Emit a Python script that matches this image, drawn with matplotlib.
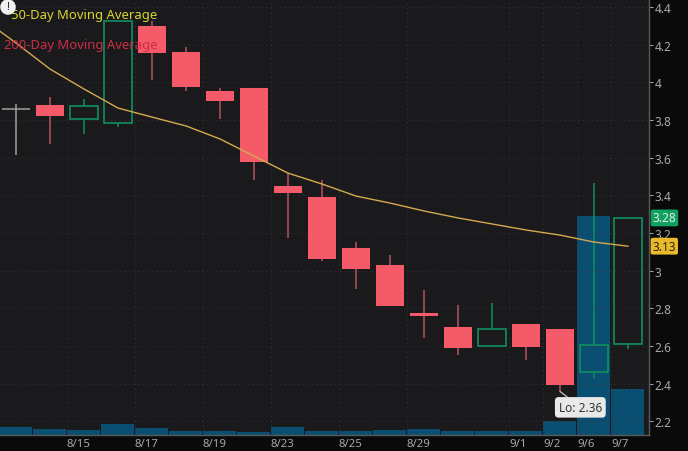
import matplotlib
matplotlib.use("Agg")
import matplotlib.pyplot as plt
from matplotlib.transforms import blended_transform_factory

plt.rcParams['font.family'] = ['Noto Sans', 'DejaVu Sans']

# daily prices
opens = [3.858, 3.879, 3.805, 3.784, 4.298, 4.160, 3.953, 3.969, 3.449, 3.391,
         3.120, 3.030, 2.776, 2.701, 2.601, 2.717, 2.691, 2.463, 2.611]
closes = [3.858, 3.821, 3.876, 4.325, 4.155, 3.975, 3.900, 3.577, 3.412, 3.062,
          3.009, 2.813, 2.760, 2.590, 2.691, 2.595, 2.394, 2.606, 3.280]
highs = [3.884, 3.921, 3.911, 4.325, 4.325, 4.187, 3.969, 3.969, 3.518, 3.481,
         3.152, 3.083, 2.898, 2.818, 2.829, 2.717, 2.691, 3.465, 3.280]
lows = [3.614, 3.672, 3.725, 3.762, 4.012, 3.953, 3.805, 3.481, 3.173, 3.051,
        2.903, 2.813, 2.643, 2.553, 2.601, 2.526, 2.360, 2.431, 2.585]
volume = [0.80, 0.60, 0.45, 1.10, 0.65, 0.40, 0.40, 0.30, 0.80, 0.35,
          0.35, 0.45, 0.55, 0.40, 0.40, 0.40, 1.35, 21.85, 4.60]

ma_idx = [-1, 0, 1, 2, 3, 4, 5, 6, 7, 8, 9, 10, 11, 12, 13, 14, 15, 16, 17, 18]
ma_50 = [4.340, 4.208, 4.070, 3.964, 3.863, 3.815, 3.768, 3.699, 3.608, 3.518,
         3.460, 3.396, 3.359, 3.317, 3.280, 3.248, 3.216, 3.189, 3.152, 3.130]

date_idx = [2, 4, 6, 8, 10, 12, 15, 16, 17, 18]
date_labels = ['8/15', '8/17', '8/19', '8/23', '8/25', '8/29', '9/1', '9/2', '9/6', '9/7']
price_ticks = [2.2, 2.4, 2.6, 2.8, 3.0, 3.2, 3.4, 3.6, 3.8, 4.0, 4.2, 4.4]
price_labels = ['2.2', '2.4', '2.6', '2.8', '3', '3.2', '3.4', '3.6', '3.8', '4', '4.2', '4.4']

last_close = 3.28
last_ma = 3.13
low_label = 2.36

BG = '#1a1a1c'
OUTER = '#0a0a0a'
RED = '#f55a69'
RED_WICK = '#b9525f'
GREEN = '#0f8f60'
BLUE = '#0a4e72'
TEXT = '#a8a8a8'

fig = plt.figure(figsize=(6.88, 4.52), dpi=100, facecolor=OUTER)
ax = fig.add_axes([0, 1 - 435.5 / 452, 649 / 688, 435.5 / 452])
vol_ax = ax.twinx()
ax.set_zorder(vol_ax.get_zorder() + 1)
ax.patch.set_visible(False)
vol_ax.patch.set_visible(True)
vol_ax.set_facecolor(BG)

# volume bars along the bottom
idx = list(range(len(opens)))
vol_ax.bar(idx, volume, width=0.97, color=BLUE)
vol_ax.set_ylim(0, 43.55)
vol_ax.set_yticks([])
for s in vol_ax.spines.values():
    s.set_visible(False)

# candles
for i in idx:
    up = closes[i] >= opens[i]
    top = max(opens[i], closes[i])
    bot = min(opens[i], closes[i])
    if opens[i] == closes[i]:
        ax.vlines(i, lows[i], highs[i], color='#a0a0a0', lw=1.1)
        ax.hlines(opens[i], i - 0.41, i + 0.41, color='#a0a0a0', lw=1.1)
    elif up:
        ax.vlines(i, top, highs[i], color=GREEN, lw=1.1)
        ax.vlines(i, lows[i], bot, color=GREEN, lw=1.1)
        ax.bar(i, top - bot, bottom=bot, width=0.8, facecolor='none', edgecolor=GREEN, lw=1.2, zorder=3)
    else:
        ax.vlines(i, lows[i], highs[i], color=RED_WICK, lw=1.1)
        ax.bar(i, top - bot, bottom=bot, width=0.82, color=RED, zorder=3)

ax.plot(ma_idx, ma_50, color='#d4aa4c', lw=1.0, zorder=4)

ax.set_xlim(-0.47, 18.62)
ax.set_ylim(2.131, 4.4414)
ax.yaxis.tick_right()
ax.set_yticks(price_ticks)
ax.set_yticklabels(price_labels)
ax.set_xticks([i - 0.5 for i in date_idx])
ax.set_xticklabels(date_labels, ha='left')
ax.tick_params(axis='x', length=0, pad=2.5, colors=TEXT, labelsize=8.2)
ax.tick_params(axis='y', length=3, width=0.7, pad=1, colors=TEXT, labelsize=8.5)
ax.grid(True, color='#343436', lw=0.6, linestyle=(0, (1.5, 4)))
ax.set_axisbelow(True)
for name, s in ax.spines.items():
    s.set_visible(name in ('right', 'bottom'))
    s.set_color('#5a5a5a')
    s.set_linewidth(1.0)

# price tags right of the axis
trans = blended_transform_factory(ax.transAxes, ax.transData)
ax.text(1.0055, last_close, '%.2f' % last_close, transform=trans, va='center', ha='left',
        fontsize=8.5, color='#e8e8e8', clip_on=False, zorder=6,
        bbox=dict(boxstyle='round,pad=0.16', fc='#10a35f', ec='none'))
ax.text(1.0055, last_ma, '%.2f' % last_ma, transform=trans, va='center', ha='left',
        fontsize=8.5, color='#2a2410', clip_on=False, zorder=6,
        bbox=dict(boxstyle='round,pad=0.16', fc='#eab92c', ec='none'))

# callout for the period low
ax.annotate('Lo: %.2f' % low_label, xy=(16, low_label), xytext=(16.6, 2.275), ha='center', va='center',
            fontsize=8.5, color='#333333', zorder=7,
            bbox=dict(boxstyle='round,pad=0.32', fc='#e9e9e9', ec='none'),
            arrowprops=dict(arrowstyle='-', color='#b8b8b8', lw=1.0, shrinkA=0, shrinkB=0))

# study labels and alert badge
fig.text(11 / 688, 1 - 16 / 452, '50-Day Moving Average', color='#d8d52e', fontsize=9.4, va='center', zorder=8)
fig.text(4 / 688, 1 - 45 / 452, '200-Day Moving Average', color='#cf2c45', fontsize=9.4, va='center', zorder=8)
fig.text(8 / 688, 1 - 8 / 452, '!', color='#1a1a1c', fontsize=7.5, fontweight='bold', ha='center', va='center', zorder=9,
         bbox=dict(boxstyle='circle,pad=0.22', fc='#f0f0f0', ec='none'))

fig.savefig('out.png', dpi=100, facecolor=fig.get_facecolor())
